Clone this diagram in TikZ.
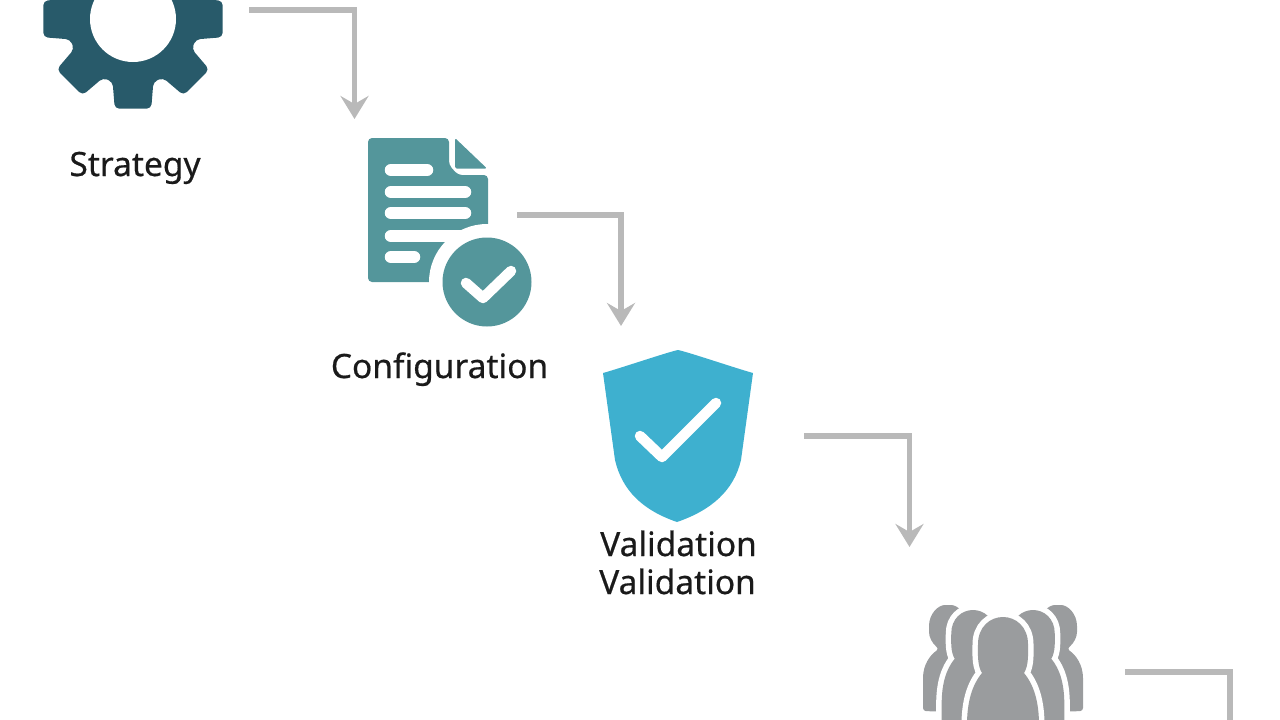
\documentclass[tikz,border=0pt]{standalone}
\usepackage{fontspec}
\setmainfont[FakeBold=0.5]{Noto Sans}
\usetikzlibrary{arrows.meta}
\definecolor{gearc}{HTML}{285A6A}
\definecolor{docc}{HTML}{54969B}
\definecolor{shieldc}{HTML}{3EB0CF}
\definecolor{peoplec}{HTML}{9A9C9E}
\definecolor{connc}{HTML}{B9B9B9}
\definecolor{textc}{HTML}{1A1A1A}
\tikzset{
  conn/.style={draw=connc,line width=5.5pt,-{Stealth[length=23pt,width=28pt,inset=8pt]}},
  lab/.style={anchor=base,inner sep=0pt,text=textc,font=\fontsize{33.5}{36}\selectfont\bfseries},
  wline/.style={draw=white,line width=12.5pt,line cap=round},
  wcheck/.style={draw=white,line width=10.5pt,line cap=round,line join=round},
  person/.pic={
    \path[fill=peoplec,preaction={draw=white,line width=11pt}]
      (-36,130) -- (-36,108) .. controls (-36,85) and (-31,68) .. (-21,56)
      .. controls (-26,48) and (-25,36) .. (-25,27)
      .. controls (-25,10) and (-13,0) .. (0,0)
      .. controls (13,0) and (25,10) .. (25,27)
      .. controls (25,36) and (26,48) .. (21,56)
      .. controls (31,68) and (36,85) .. (36,108) -- (36,130) -- cycle;
  },
  outerperson/.pic={
    \path[fill=peoplec,rounded corners=3pt]
      (-25,106) -- (-25,76) .. controls (-25,60) and (-18,50) .. (-9,44)
      .. controls (-16,38) and (-19,32) .. (-19,24)
      .. controls (-19,9) and (-10,0) .. (0,0)
      .. controls (10,0) and (19,9) .. (19,24)
      -- (30,108) -- cycle;
  }
}
\begin{document}
\begin{tikzpicture}[x=1pt,y=-1pt]
\useasboundingbox (0,0) rectangle (1280,720);
\clip (0,0) rectangle (1280,720);
% connector ends
\coordinate (s1) at (249,10);  \coordinate (e1) at (354.5,119);
\coordinate (s2) at (517,215); \coordinate (e2) at (621,326);
\coordinate (s3) at (804,436); \coordinate (e3) at (909.5,547);
\coordinate (s4) at (1125,672);\coordinate (e4) at (1230,783);
% gear
\begin{scope}[shift={(133,19)}]
\fill[gearc,rounded corners=4.5pt] (-18:66)
  \foreach \a in {0,45,...,315}{ -- (\a-18:66) -- (\a-11.5:91.5) -- (\a+11.5:91.5) -- (\a+18:66) } -- cycle;
\fill[white] (0,0) circle[radius=43];
\end{scope}
% document
\fill[docc,rounded corners=4pt] (449,138) -- (368,138) -- (368,282) -- (460,282)
  -- (488,282) -- (488,175) -- (458,175) -- (449,165) -- cycle;
\fill[docc,rounded corners=1.5pt] (455,138) -- (487,168.5) -- (455,168.5) -- cycle;
\draw[wline] (391,170) -- (427,170);
\draw[wline] (391,192) -- (465,192);
\draw[wline] (391,213) -- (465,213);
\draw[wline] (391,236) -- (465,236);
\draw[wline] (391,257) -- (414,257);
\fill[white] (487,282) circle[radius=58];
\fill[white] (440,290) rectangle (500,330);
\fill[docc] (487,282) circle[radius=44.5];
\draw[wcheck] (466,283) -- (483,298) -- (511,271);
% shield
\fill[shieldc] (678,350) .. controls (688,352) and (735,368) .. (753,373)
  -- (741,460) .. controls (734,490) and (712,510) .. (677,522)
  .. controls (642,510) and (622,490) .. (615,460) -- (603,373)
  .. controls (621,368) and (668,352) .. (678,350) -- cycle;
\draw[wcheck] (640,436) -- (662,457) -- (716,403);
% people
\pic at (948,605) {outerperson};
\pic[xscale=-1] at (1058,605) {outerperson};
\pic[scale=.87] at (973,610) {person};
\pic[xscale=-.87,yscale=.87] at (1033,610) {person};
\pic at (1003,617) {person};
% connectors
\draw[conn] (s1) -| (e1);
\draw[conn] (s2) -| (e2);
\draw[conn] (s3) -| (e3);
\draw[conn] (s4) -| (e4);
% labels
\node[lab] (strategy) at (135,176) {Strategy};
\node[lab] (configuration) at (439.5,378) {Configuration};
\node[lab] (validation1) at (678.5,556) {Validation};
\node[lab] (validation2) at (677.5,594) {Validation};
\end{tikzpicture}
\end{document}
